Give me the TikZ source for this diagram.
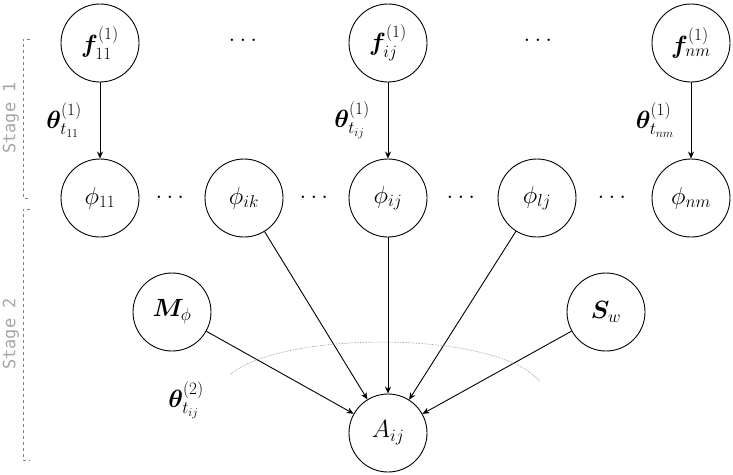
\documentclass[tikz,border=0pt]{standalone}
\usepackage{amsmath,bm}
\usepackage{fontspec}
\usetikzlibrary{arrows.meta}
\newfontfamily\stagefont{DejaVu Sans Mono}
\begin{document}
\begin{tikzpicture}[x=1pt,y=-1pt,line width=0.9pt,
  var/.style={circle,draw,minimum size=78pt,inner sep=0pt,font=\fontsize{24}{28}\selectfont},
  lbl/.style={font=\fontsize{24}{28}\selectfont},
  arr/.style={-{Stealth[length=7pt,width=6pt]}},
  stage/.style={gray,dashed,line width=0.7pt},
  stagetxt/.style={gray!70,font=\stagefont\fontsize{17}{20}\selectfont,rotate=90}]
\useasboundingbox (0,0) rectangle (733,474);
% stage brackets
\draw[stage] (30,39) -- (23,39) -- (23,198) -- (30,198);
\draw[stage] (30,209) -- (23,209) -- (23,460) -- (30,460);
\node[stagetxt] at (11,118) {Stage 1};
\node[stagetxt] at (11,334) {Stage 2};
% row 1
\node[var] (f11) at (100,43) {$\bm{f}_{11}^{(1)}$};
\node[var] (fij) at (388,43) {$\bm{f}_{ij}^{(1)}$};
\node[var] (fnm) at (691,43) {$\bm{f}_{nm}^{(1)}$};
\node[lbl] (d1) at (245,40) {$\dots$};
\node[lbl] (d2) at (540,40) {$\dots$};
% row 2
\node[var] (p11) at (100,198) {$\phi_{11}$};
\node[var] (pik) at (244,198) {$\phi_{ik}$};
\node[var] (pij) at (388,198) {$\phi_{ij}$};
\node[var] (plj) at (537,198) {$\phi_{lj}$};
\node[var] (pnm) at (691,198) {$\phi_{nm}$};
\node[lbl] (d3) at (172,197) {$\dots$};
\node[lbl] (d4) at (316,197) {$\dots$};
\node[lbl] (d5) at (463,197) {$\dots$};
\node[lbl] (d6) at (614,197) {$\dots$};
% row 3
\node[var] (M) at (172,312) {$\bm{M}_{\phi}$};
\node[var] (S) at (606,312) {$\bm{S}_{w}$};
\node[var] (A) at (388,433) {$A_{ij}$};
% edges
\draw[arr] (f11) -- (p11);
\draw[arr] (fij) -- (pij);
\draw[arr] (fnm) -- (pnm);
\draw[arr] (pik) -- (A);
\draw[arr] (pij) -- (A);
\draw[arr] (plj) -- (A);
\draw[arr] (M) -- (A);
\draw[arr] (S) -- (A);
% labels
\node[lbl] (t1) at (64,120) {$\bm{\theta}_{t_{11}}^{(1)}$};
\node[lbl] (t2) at (352,120) {$\bm{\theta}_{t_{ij}}^{(1)}$};
\node[lbl] (t3) at (655,120) {$\bm{\theta}_{t_{nm}}^{(1)}$};
\node[lbl] (t4) at (186,400) {$\bm{\theta}_{t_{ij}}^{(2)}$};
\draw[densely dotted,gray,line width=0.6pt] (230,375) .. controls (280,330) and (500,330) .. (540,382);
\end{tikzpicture}
\end{document}
